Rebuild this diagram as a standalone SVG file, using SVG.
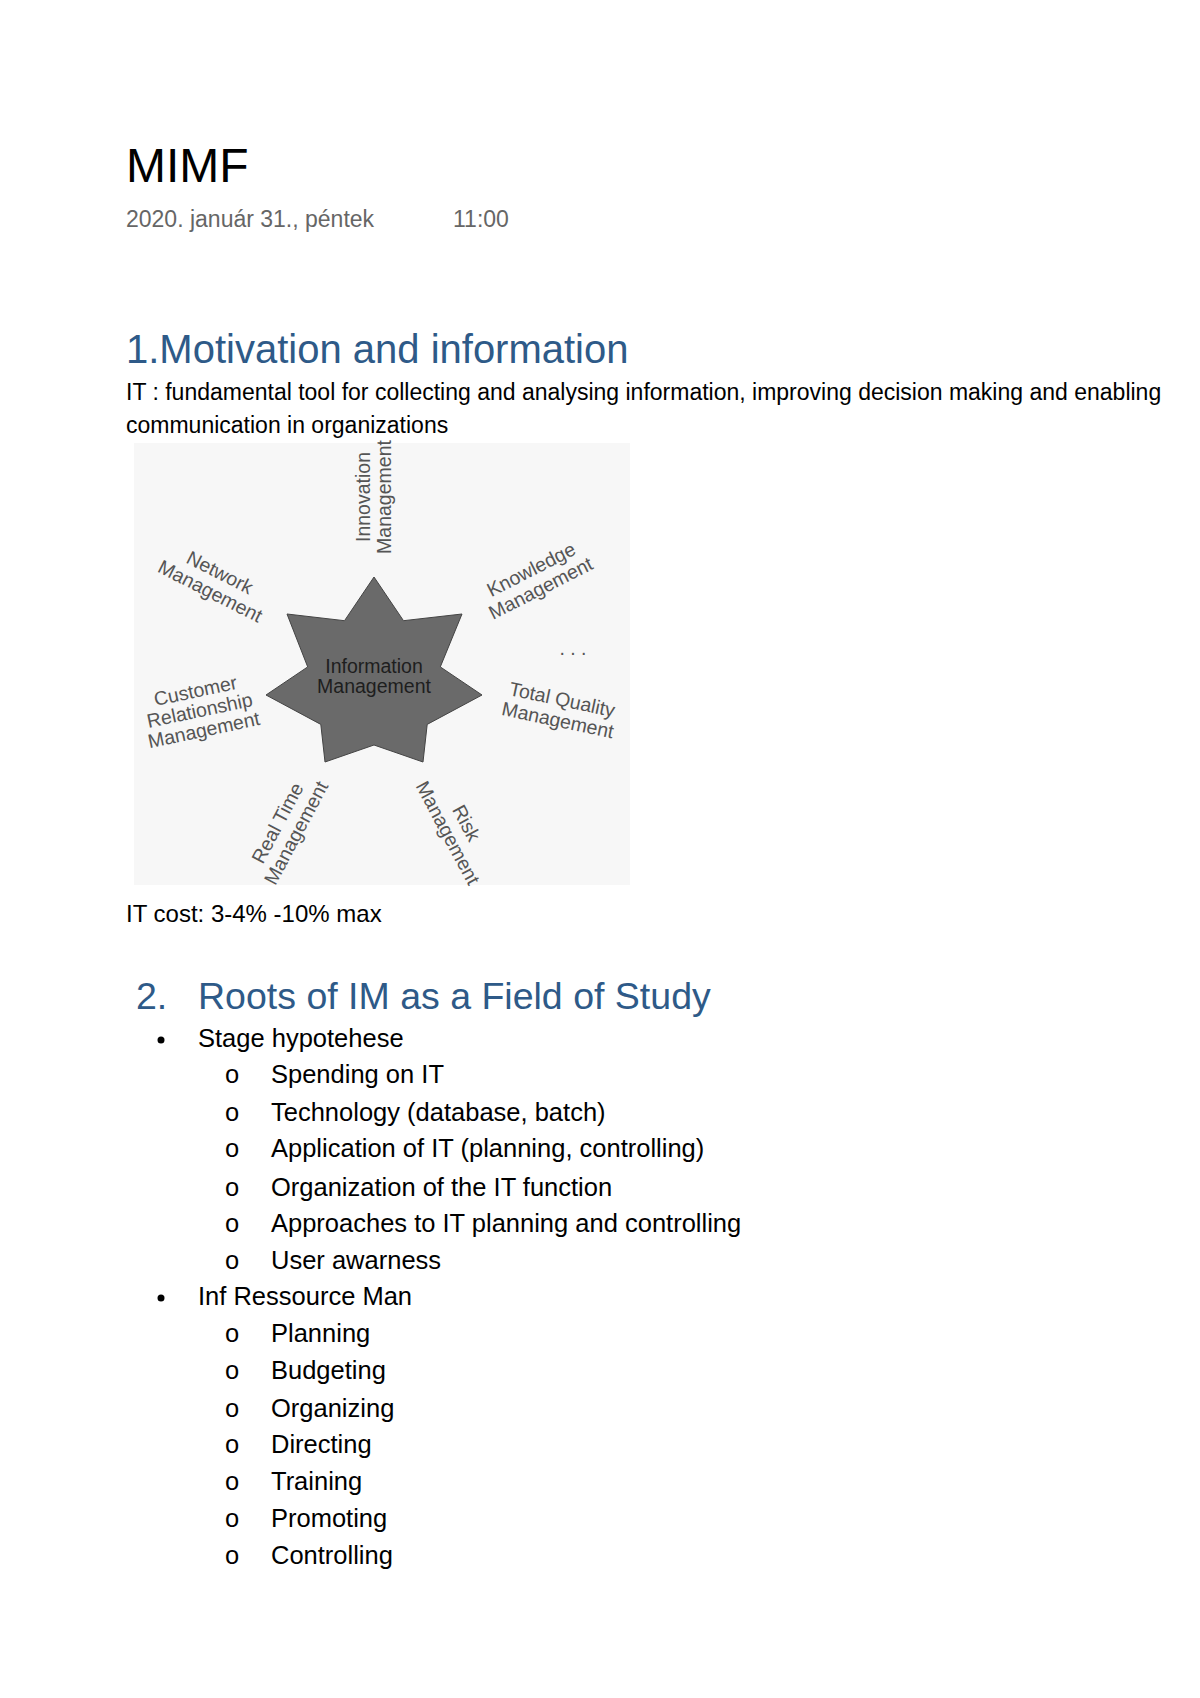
<svg xmlns="http://www.w3.org/2000/svg" width="1200" height="1698" viewBox="0 0 1200 1698">
<style>
.t{font-family:"Liberation Sans",Arial,sans-serif;fill:#000}
.h{font-family:"Liberation Sans",Arial,sans-serif;fill:#2E5A88}
.g{font-family:"Liberation Sans",Arial,sans-serif;fill:#555;font-size:19.5px;text-anchor:middle}
.l{font-family:"Liberation Sans",Arial,sans-serif;font-size:25.5px;fill:#000}
</style>
<rect width="1200" height="1698" fill="#fff"/>
<text class="t" x="126" y="182" font-size="48">MIMF</text>
<text class="t" x="126" y="227" font-size="23" style="fill:#666">2020. január 31., péntek</text>
<text class="t" x="453" y="227" font-size="23" style="fill:#666">11:00</text>
<text class="h" x="126" y="363" font-size="40">1.Motivation and information</text>
<text class="t" x="126" y="400" font-size="23">IT : fundamental tool for collecting and analysing information, improving decision making and enabling</text>
<text class="t" x="126" y="433" font-size="23">communication in organizations</text>
<g id="figure">
<rect x="134" y="443" width="496" height="442" fill="#f7f7f7"/>
<polygon points="374,577 403.5,620.7 462,614 440.3,666.9 482,695 427.2,724.4 423,762 374,745 325,762 320.8,724.4 266,695 307.7,666.9 287,614 344.5,620.7" fill="#6a6a6a" stroke="#444" stroke-width="1"/>
<text class="g" x="374" y="673" style="fill:#1e1e1e">Information</text>
<text class="g" x="374" y="693" style="fill:#1e1e1e">Management</text>
<g transform="translate(374,497) rotate(-90)"><text class="g" x="0" y="-4">Innovation</text><text class="g" x="0" y="17">Management</text></g>
<g transform="translate(215,582) rotate(27)"><text class="g" x="0" y="-4">Network</text><text class="g" x="0" y="17">Management</text></g>
<g transform="translate(536,579) rotate(-27)"><text class="g" x="0" y="-4">Knowledge</text><text class="g" x="0" y="17">Management</text></g>
<text class="g" x="573" y="655">. . .</text>
<g transform="translate(560,710) rotate(12)"><text class="g" x="0" y="-4">Total Quality</text><text class="g" x="0" y="17">Management</text></g>
<g transform="translate(200,712) rotate(-12)"><text class="g" x="0" y="-15">Customer</text><text class="g" x="0" y="5">Relationship</text><text class="g" x="0" y="25">Management</text></g>
<g transform="translate(287,828) rotate(-62)"><text class="g" x="0" y="-4">Real Time</text><text class="g" x="0" y="17">Management</text></g>
<g transform="translate(457,828) rotate(62)"><text class="g" x="0" y="-4">Risk</text><text class="g" x="0" y="17">Management</text></g>
</g>
<text class="t" x="126" y="922" font-size="24">IT cost: 3-4% -10% max</text>
<text class="h" x="136" y="1009" font-size="37.5">2.</text>
<text class="h" x="198" y="1009" font-size="37.5">Roots of IM as a Field of Study</text>
<g id="list">
<circle cx="161" cy="1040" r="3.5" fill="#000"/><text class="l" x="198" y="1047">Stage hypotehese</text>
<text class="l" x="225" y="1083">o</text><text class="l" x="271" y="1083">Spending on IT</text>
<text class="l" x="225" y="1121">o</text><text class="l" x="271" y="1121">Technology (database, batch)</text>
<text class="l" x="225" y="1157">o</text><text class="l" x="271" y="1157">Application of IT (planning, controlling)</text>
<text class="l" x="225" y="1196">o</text><text class="l" x="271" y="1196">Organization of the IT function</text>
<text class="l" x="225" y="1232">o</text><text class="l" x="271" y="1232">Approaches to IT planning and controlling</text>
<text class="l" x="225" y="1269">o</text><text class="l" x="271" y="1269">User awarness</text>
<circle cx="161" cy="1298" r="3.5" fill="#000"/><text class="l" x="198" y="1305">Inf Ressource Man</text>
<text class="l" x="225" y="1342">o</text><text class="l" x="271" y="1342">Planning</text>
<text class="l" x="225" y="1379">o</text><text class="l" x="271" y="1379">Budgeting</text>
<text class="l" x="225" y="1417">o</text><text class="l" x="271" y="1417">Organizing</text>
<text class="l" x="225" y="1453">o</text><text class="l" x="271" y="1453">Directing</text>
<text class="l" x="225" y="1490">o</text><text class="l" x="271" y="1490">Training</text>
<text class="l" x="225" y="1527">o</text><text class="l" x="271" y="1527">Promoting</text>
<text class="l" x="225" y="1564">o</text><text class="l" x="271" y="1564">Controlling</text>
</g>
</svg>
